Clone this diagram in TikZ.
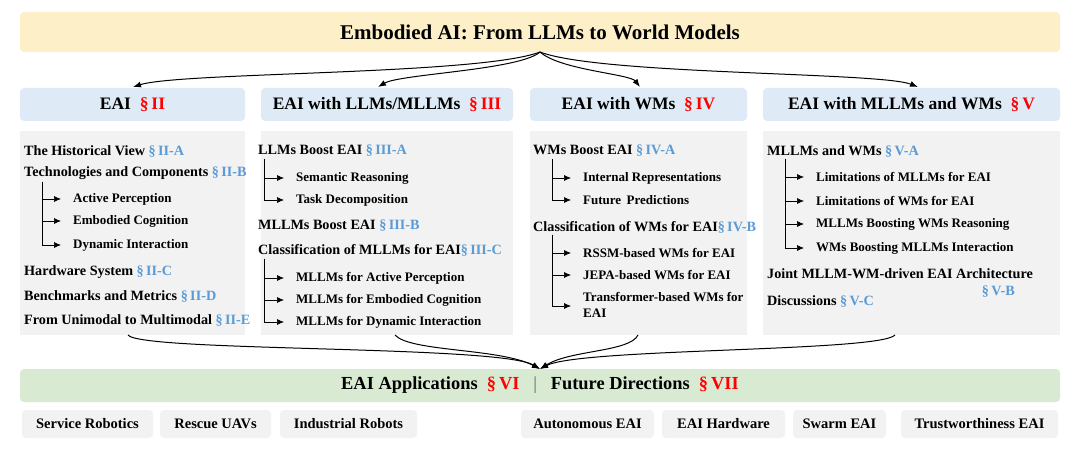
\documentclass[tikz,border=0pt]{standalone}
\usepackage{fontspec}
\setmainfont{Liberation Serif}
\usetikzlibrary{arrows.meta}
\definecolor{ttl}{RGB}{253,240,200}
\definecolor{hdr}{RGB}{222,235,247}
\definecolor{cnt}{RGB}{242,242,242}
\definecolor{grn}{RGB}{217,234,211}
\definecolor{sec}{RGB}{91,155,213}
\definecolor{rd}{RGB}{255,0,0}
\tikzset{
 box/.style={rounded corners=4pt,draw=none},
 it/.style={anchor=west,inner sep=0pt,font=\bfseries\fontsize{14.2}{16}\selectfont},
 sub/.style={anchor=west,inner sep=0pt,font=\bfseries\fontsize{13}{15}\selectfont},
 hd/.style={font=\bfseries\fontsize{17.5}{20}\selectfont},
 tree/.style={line width=0.7pt,-{Latex[length=7pt,width=6pt]}},
 flow/.style={line width=1pt,-{Latex[length=8pt,width=6pt]}},
 bt/.style={box,fill=cnt,minimum height=28pt,font=\bfseries\fontsize{14.5}{16}\selectfont,inner sep=0pt}
}
\newcommand{\sx}[1]{\textcolor{sec}{\S\,#1}}
\newcommand{\rx}[1]{\textcolor{rd}{\S\,#1}}
\begin{document}
\begin{tikzpicture}[x=1pt,y=-1pt]
\useasboundingbox (0,0) rectangle (1080,457);
% title
\node[box,fill=ttl,minimum width=1040pt,minimum height=40pt,font=\bfseries\fontsize{21}{24}\selectfont] (title) at (540,32) {Embodied AI: From LLMs to World Models};
% headers
\node[box,fill=hdr,minimum width=225pt,minimum height=33pt,hd] (h1) at (132.5,104.5) {EAI~~\rx{II}};
\node[box,fill=hdr,minimum width=252pt,minimum height=33pt,hd] (h2) at (387,104.5) {EAI with LLMs/MLLMs~~\rx{III}};
\node[box,fill=hdr,minimum width=217pt,minimum height=33pt,hd] (h3) at (638.5,104.5) {EAI with WMs~~\rx{IV}};
\node[box,fill=hdr,minimum width=297pt,minimum height=33pt,hd] (h4) at (911.5,104.5) {EAI with MLLMs and WMs~~\rx{V}};
% content
\node[fill=cnt,minimum width=225pt,minimum height=204pt,inner sep=0pt] (c1) at (132.5,233) {};
\node[fill=cnt,minimum width=252pt,minimum height=204pt,inner sep=0pt] (c2) at (387,233) {};
\node[fill=cnt,minimum width=217pt,minimum height=204pt,inner sep=0pt] (c3) at (638.5,233) {};
\node[fill=cnt,minimum width=297pt,minimum height=204pt,inner sep=0pt] (c4) at (911.5,233) {};
% bottom
\node[box,fill=grn,minimum width=1040pt,minimum height=33pt,font=\bfseries\fontsize{18.4}{21}\selectfont] (bot) at (540,385.5) {EAI Applications~~\rx{VI}~~~\textcolor{black!60}{\textmd{|}}~~~Future Directions~~\rx{VII}};
\node[bt,minimum width=131pt] (b1) at (87.5,424) {Service Robotics};
\node[bt,minimum width=111pt] (b2) at (215.5,424) {Rescue UAVs};
\node[bt,minimum width=137pt] (b3) at (348.5,424) {Industrial Robots};
\node[bt,minimum width=133pt] (b4) at (587.5,424) {Autonomous EAI};
\node[bt,minimum width=123pt] (b5) at (723.5,424) {EAI Hardware};
\node[bt,minimum width=93pt] (b6) at (839.5,424) {Swarm EAI};
\node[bt,minimum width=157pt] (b7) at (979.5,424) {Trustworthiness EAI};
% column 1
\node[it] (a1) at (24,151) {The Historical View \sx{II-A}};
\node[it] (a2) at (24,173) {Technologies and Components \sx{II-B}};
\node[sub] (a3) at (73,199) {Active Perception};
\node[sub] (a4) at (73,221) {Embodied Cognition};
\node[sub] (a5) at (73,245) {Dynamic Interaction};
\node[it] (a6) at (24,272) {Hardware System \sx{II-C}};
\node[it] (a7) at (24,296) {Benchmarks and Metrics \sx{II-D}};
\node[it] (a8) at (24,320) {From Unimodal to Multimodal \sx{II-E}};
\coordinate (t1) at (42,182);
\foreach \n in {a3,a4,a5} \draw[tree] (t1) |- ([xshift=-12pt]\n.west);
% column 2
\node[it] (d1) at (258,151) {LLMs Boost EAI \sx{III-A}};
\node[sub] (d2) at (296,178) {Semantic Reasoning};
\node[sub] (d3) at (296,200) {Task Decomposition};
\node[it] (d4) at (258,226) {MLLMs Boost EAI \sx{III-B}};
\node[it] (d5) at (258,250) {Classification of MLLMs for EAI\sx{III-C}};
\node[sub] (d6) at (296,278) {MLLMs for Active Perception};
\node[sub] (d7) at (296,300) {MLLMs for Embodied Cognition};
\node[sub] (d8) at (296,322) {MLLMs for Dynamic Interaction};
\coordinate (t2) at (264,159);
\coordinate (t3) at (264,259);
\foreach \n in {d2,d3} \draw[tree] (t2) |- ([xshift=-12pt]\n.west);
\foreach \n in {d6,d7,d8} \draw[tree] (t3) |- ([xshift=-12pt]\n.west);
% column 3
\node[it] (e1) at (533,151) {WMs Boost EAI \sx{IV-A}};
\node[sub] (e2) at (583,178) {Internal Representations};
\node[sub] (e3) at (583,200) {Future\, Predictions};
\node[it] (e4) at (533,227) {Classification of WMs for EAI\sx{IV-B}};
\node[sub] (e5) at (583,253) {RSSM-based WMs for EAI};
\node[sub] (e6) at (583,275) {JEPA-based WMs for EAI};
\node[sub,align=left,font=\bfseries\fontsize{13}{16}\selectfont] (e7) at (583,305) {Transformer-based WMs for\\EAI};
\coordinate (t4) at (552,159);
\coordinate (t5) at (552,235);
\foreach \n in {e2,e3} \draw[tree] (t4) |- ([xshift=-12pt]\n.west);
\draw[tree] (t5) |- ([xshift=-12pt]e5.west);
\draw[tree] (t5) |- ([xshift=-12pt]e6.west);
\draw[tree] (t5) |- ([xshift=-12pt,yshift=-1pt]e7.west);
% column 4
\node[it] (f1) at (767,151) {MLLMs and WMs \sx{V-A}};
\node[sub] (f2) at (816,177) {Limitations of MLLMs for EAI};
\node[sub] (f3) at (816,201) {Limitations of WMs for EAI};
\node[sub] (f4) at (816,224) {MLLMs Boosting WMs Reasoning};
\node[sub] (f5) at (816,248) {WMs Boosting MLLMs Interaction};
\node[it] (f6) at (767,274) {Joint MLLM-WM-driven EAI Architecture};
\node[it,anchor=east] (f7) at (1015,292) {\sx{V-B}};
\node[it] (f8) at (767,301) {Discussions \sx{V-C}};
\coordinate (t6) at (785,159);
\foreach \n in {f2,f3,f4,f5} \draw[tree] (t6) |- ([xshift=-12pt]\n.west);
% flow arrows
\coordinate (s) at (540,52);
\draw[flow] (s) .. controls (480,75) and (180,72) .. (133,87);
\draw[flow] (s) .. controls (520,70) and (400,74) .. (378,87);
\draw[flow] (s) .. controls (560,70) and (630,74) .. (640,87);
\draw[flow] (s) .. controls (600,75) and (880,72) .. (918,87);
\coordinate (g) at (540,369);
\draw[flow] (128,335) .. controls (140,352) and (500,345) .. (g);
\draw[flow] (395,335) .. controls (410,352) and (500,348) .. (g);
\draw[flow] (638,335) .. controls (630,352) and (570,350) .. (g);
\draw[flow] (895,335) .. controls (880,352) and (580,348) .. (g);
\end{tikzpicture}
\end{document}
